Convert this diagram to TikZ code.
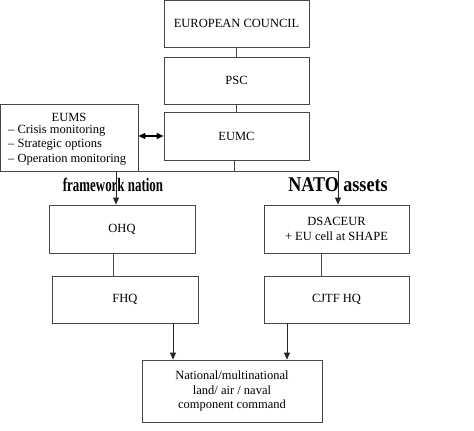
\documentclass[tikz,border=0pt]{standalone}
\usepackage{fontspec}
\setmainfont{Liberation Serif}
\usetikzlibrary{arrows.meta,calc}
\begin{document}
\begin{tikzpicture}[x=1pt,y=-1pt,
  box/.style={draw=black!72,line width=0.8pt,minimum width=145pt,minimum height=47pt,inner sep=0pt,align=center,
    font=\fontsize{12.5}{14.5}\selectfont},
  link/.style={draw=black!72,line width=0.8pt},
  arr/.style={draw=black!85,line width=0.8pt,-{Triangle[length=7pt,width=6pt]}},
  txt/.style={font=\fontsize{12.5}{14.5}\selectfont,inner sep=0pt},
  biglabel/.style={inner sep=0pt,font=\bfseries}
]
\useasboundingbox (0,0) rectangle (474,431);
% boxes
\node[box] (ec) at (236.5,23.5) {EUROPEAN COUNCIL};
\node[box] (psc) at (236.5,80.5) {PSC};
\node[box,minimum height=48pt] (eumc) at (236.5,136) {EUMC};
\node[box,minimum width=138pt,minimum height=67pt] (eums) at (69,137.5) {};
\node[txt,anchor=base] (eumstitle) at (69,121) {EUMS};
\node[txt,align=left,anchor=north west] (eumstext) at (8,125)
  {– Crisis monitoring\\– Strategic options\\– Operation monitoring};
\node[box,minimum width=146pt,minimum height=48pt] (ohq) at (122,229) {OHQ};
\node[box,minimum height=48pt] (dsa) at (336.5,229) {DSACEUR\\+ EU cell at SHAPE};
\node[box,minimum width=146pt] (fhq) at (125,299.5) {FHQ};
\node[box] (cjtf) at (336.5,299.5) {CJTF HQ};
\node[box,minimum width=180pt,minimum height=62pt] (ncc) at (232,391) {National/multinational\\land/ air / naval\\component command};
% thick top edge of the council box
\draw[black!72,line width=2pt] (ec.north west) -- (ec.north east);
% labels
\node[biglabel] (fw) at (113,185) {\fontsize{19}{19}\selectfont\scalebox{0.68}[1]{framework nation}};
\node[biglabel] (na) at (338,185) {\fontsize{21}{21}\selectfont\scalebox{0.86}[1]{NATO assets}};
% connectors
\draw[link] (ec.south) -- (psc.north);
\draw[link] (psc.south) -- (eumc.north);
\draw[arr,line width=1.2pt,draw=black,{Triangle[length=7pt,width=6pt]}-{Triangle[length=7pt,width=6pt]}] (eums.east |- eumc.west) -- (eumc.west);
\coordinate (j) at (234,171);
\coordinate (lft) at (116,171);
\coordinate (rgt) at (338,171);
\draw[link] (eumc.south -| j) -- (j);
\draw[link] (lft) -- (rgt);
\draw[arr] (lft) -- (lft |- ohq.north);
\draw[arr] (rgt) -- (rgt |- dsa.north);
\coordinate (c1) at (113,0);
\coordinate (c2) at (321,0);
\coordinate (c3) at (173,0);
\coordinate (c4) at (287,0);
\draw[link] (c1 |- ohq.south) -- (c1 |- fhq.north);
\draw[link] (c2 |- dsa.south) -- (c2 |- cjtf.north);
\draw[arr] (c3 |- fhq.south) -- (c3 |- ncc.north);
\draw[arr] (c4 |- cjtf.south) -- (c4 |- ncc.north);
\end{tikzpicture}
\end{document}
